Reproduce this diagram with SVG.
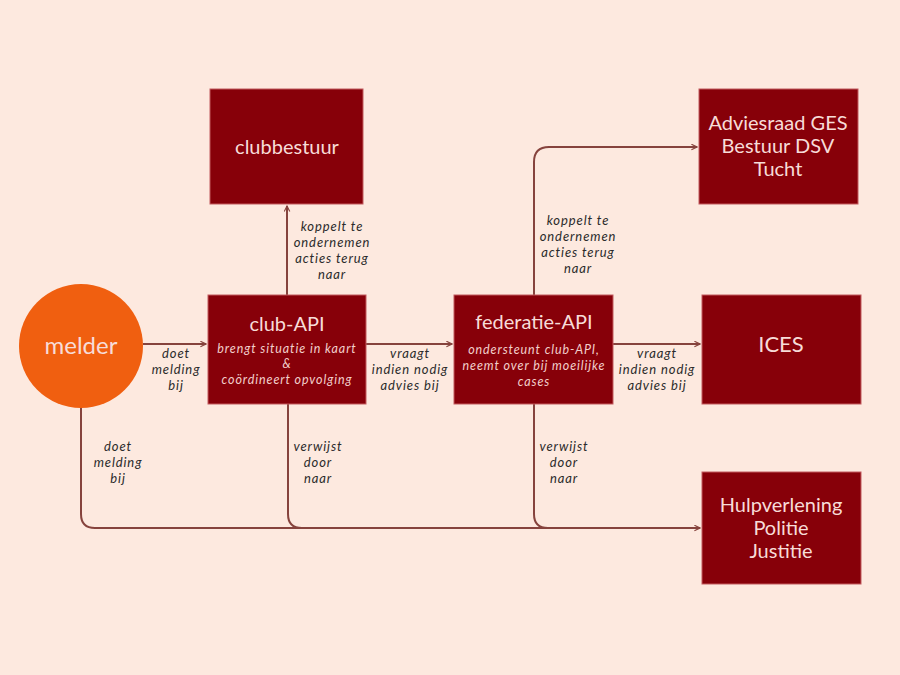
<svg xmlns="http://www.w3.org/2000/svg" width="900" height="675" viewBox="0 0 900 675">
<defs>
<marker id="arr" viewBox="0 0 10 10" refX="9" refY="5" markerWidth="7" markerHeight="7" orient="auto" markerUnits="userSpaceOnUse">
<path d="M1,1 L9,5 L1,9" fill="none" stroke="#86433d" stroke-width="1.6"/>
</marker>
<style>
.box{fill:#870009;stroke:#c25a5f;stroke-width:1}
.t{font-family:Lato,"Open Sans",sans-serif;fill:#f7dcd8;text-anchor:middle}
.s{font-family:Lato,"Open Sans",sans-serif;font-style:italic;fill:#f2cfcb;text-anchor:middle;font-size:12.5px;letter-spacing:0.9px}
.l{font-family:Lato,"Open Sans",sans-serif;font-style:italic;fill:#2b2b2b;text-anchor:middle;font-size:13px;letter-spacing:0.9px}
.c{fill:none;stroke:#86433d;stroke-width:2}
</style>
</defs>
<rect width="900" height="675" fill="#fde9df"/>
<g id="connectors">
<path class="c" d="M143,344 H206" marker-end="url(#arr)"/>
<path class="c" d="M366,344 H452" marker-end="url(#arr)"/>
<path class="c" d="M613,344 H700" marker-end="url(#arr)"/>
<path class="c" d="M287,295 V206" marker-end="url(#arr)"/>
<path class="c" d="M534,295 V162 Q534,147 549,147 H697" marker-end="url(#arr)"/>
<path class="c" d="M81,408 V514 Q81,528 95,528 H700" marker-end="url(#arr)"/>
<path class="c" d="M288,404 V514 Q288,528 302,528"/>
<path class="c" d="M534,404 V514 Q534,528 548,528"/>
<text class="l" x="176" y="358">doet</text>
<text class="l" x="176" y="374">melding</text>
<text class="l" x="176" y="390">bij</text>
<text class="l" x="410" y="358">vraagt</text>
<text class="l" x="410" y="374">indien nodig</text>
<text class="l" x="410" y="390">advies bij</text>
<text class="l" x="657" y="358">vraagt</text>
<text class="l" x="657" y="374">indien nodig</text>
<text class="l" x="657" y="390">advies bij</text>
<text class="l" x="332" y="231">koppelt te</text>
<text class="l" x="332" y="247">ondernemen</text>
<text class="l" x="332" y="263">acties terug</text>
<text class="l" x="332" y="279">naar</text>
<text class="l" x="578" y="225">koppelt te</text>
<text class="l" x="578" y="241">ondernemen</text>
<text class="l" x="578" y="257">acties terug</text>
<text class="l" x="578" y="273">naar</text>
<text class="l" x="118" y="451">doet</text>
<text class="l" x="118" y="467">melding</text>
<text class="l" x="118" y="483">bij</text>
<text class="l" x="318" y="451">verwijst</text>
<text class="l" x="318" y="467">door</text>
<text class="l" x="318" y="483">naar</text>
<text class="l" x="564" y="451">verwijst</text>
<text class="l" x="564" y="467">door</text>
<text class="l" x="564" y="483">naar</text>
</g>
<g id="melder">
<circle cx="81" cy="346" r="62" fill="#f05f10"/>
<text class="t" x="81" y="354" font-size="24">melder</text>
</g>
<g id="club-api">
<rect class="box" x="208" y="295" width="158" height="109"/>
<text class="t" x="287" y="331" font-size="20">club-API</text>
<text class="s" x="287" y="353">brengt situatie in kaart</text>
<text class="s" x="287" y="368">&amp;</text>
<text class="s" x="287" y="384">coördineert opvolging</text>
</g>
<g id="federatie-api">
<rect class="box" x="454" y="295" width="159" height="109"/>
<text class="t" x="534" y="329" font-size="20">federatie-API</text>
<text class="s" x="534" y="354">ondersteunt club-API,</text>
<text class="s" x="534" y="370">neemt over bij moeilijke</text>
<text class="s" x="534" y="386">cases</text>
</g>
<g id="ices">
<rect class="box" x="702" y="295" width="159" height="109"/>
<text class="t" x="781" y="352" font-size="22">ICES</text>
</g>
<g id="clubbestuur">
<rect class="box" x="210" y="89" width="153" height="115"/>
<text class="t" x="287" y="154" font-size="20">clubbestuur</text>
</g>
<g id="adviesraad">
<rect class="box" x="699" y="89" width="159" height="115"/>
<text class="t" x="778" y="130" font-size="20">Adviesraad GES</text>
<text class="t" x="778" y="153" font-size="20">Bestuur DSV</text>
<text class="t" x="778" y="176" font-size="20">Tucht</text>
</g>
<g id="hulpverlening">
<rect class="box" x="702" y="472" width="159" height="112"/>
<text class="t" x="781" y="512" font-size="20">Hulpverlening</text>
<text class="t" x="781" y="535" font-size="20">Politie</text>
<text class="t" x="781" y="558" font-size="20">Justitie</text>
</g>
</svg>
